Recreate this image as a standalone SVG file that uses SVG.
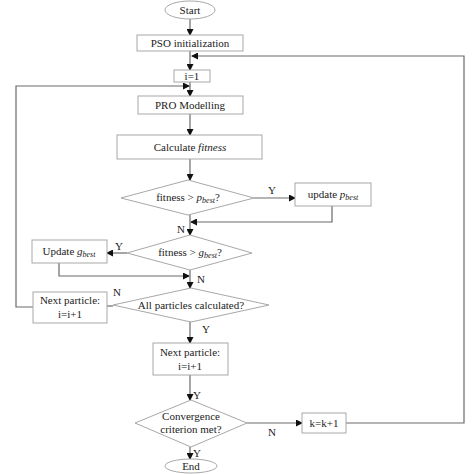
<svg xmlns="http://www.w3.org/2000/svg" width="474" height="474" viewBox="0 0 474 474">
<style>
.box{fill:#fff;stroke:#a8a8a8;stroke-width:1}
.t{font-family:'Liberation Serif','Times New Roman',serif;font-size:11px;fill:#222;text-anchor:middle}
.lbl{font-family:'Liberation Serif','Times New Roman',serif;font-size:11px;fill:#222}
.c{fill:none;stroke:#6a6a6a;stroke-width:1.2}
.ca{fill:none;stroke:#6a6a6a;stroke-width:1.2;marker-end:url(#ah)}
.i{font-style:italic}
</style>
<defs>
<marker id="ah" markerWidth="7" markerHeight="7" refX="6" refY="3.5" orient="auto" markerUnits="userSpaceOnUse">
<path d="M0,0 L7,3.5 L0,7 Z" fill="#111"/>
</marker>
</defs>
<rect width="474" height="474" fill="#fff"/>
<g id="connectors">
<line class="ca" x1="190" y1="19" x2="190" y2="35"/>
<line class="ca" x1="190" y1="51" x2="190" y2="70"/>
<path class="ca" d="M346,423 H464 V56 H192"/>
<line class="ca" x1="190" y1="82" x2="190" y2="96"/>
<path class="ca" d="M33,307 H16 V86 H189"/>
<line class="ca" x1="190" y1="114" x2="190" y2="135"/>
<line class="ca" x1="190" y1="159" x2="190" y2="180"/>
<line class="ca" x1="254" y1="198" x2="295" y2="198"/>
<path class="ca" d="M332,206 V222 H191"/>
<line class="ca" x1="190" y1="215" x2="190" y2="235"/>
<line class="ca" x1="127" y1="253" x2="107" y2="253"/>
<path class="ca" d="M59,263 V276 H189"/>
<line class="ca" x1="190" y1="270" x2="190" y2="288"/>
<line class="c" x1="113" y1="306" x2="107" y2="306"/>
<line class="ca" x1="190" y1="322" x2="190" y2="343"/>
<line class="ca" x1="190" y1="375" x2="190" y2="400"/>
<line class="ca" x1="247" y1="423" x2="302" y2="423"/>
<line class="ca" x1="190" y1="447" x2="190" y2="459"/>
<text class="lbl" x="268" y="194">Y</text>
<text class="lbl" x="177" y="233">N</text>
<text class="lbl" x="115" y="250">Y</text>
<text class="lbl" x="197" y="283">N</text>
<text class="lbl" x="113" y="296">N</text>
<text class="lbl" x="202" y="333">Y</text>
<text class="lbl" x="193" y="399">Y</text>
<text class="lbl" x="268" y="436">N</text>
<text class="lbl" x="193" y="457">Y</text>
</g>
<g id="start">
<ellipse class="box" cx="190" cy="10" rx="25" ry="9"/>
<text class="t" x="190" y="14">Start</text>
</g>
<g id="pso-init">
<rect class="box" x="137" y="35" width="106" height="16"/>
<text class="t" x="190" y="47">PSO initialization</text>
</g>
<g id="i-eq-1">
<rect class="box" x="174" y="70" width="36" height="12"/>
<text class="t" x="192" y="80">i=1</text>
</g>
<g id="pro-modelling">
<rect class="box" x="138" y="96" width="105" height="18"/>
<text class="t" x="190" y="109">PRO Modelling</text>
</g>
<g id="calc-fitness">
<rect class="box" x="117" y="135" width="145" height="24"/>
<text class="t" x="190" y="151">Calculate <tspan class="i">fitness</tspan></text>
</g>
<g id="pbest-decision">
<polygon class="box" points="188,180 254,198 188,215 121,198"/>
<text class="t" x="188" y="201">fitness &gt; <tspan class="i">p</tspan><tspan class="i" font-size="8" dy="2">best</tspan><tspan dy="-2">?</tspan></text>
</g>
<g id="update-pbest">
<rect class="box" x="295" y="183" width="76" height="23"/>
<text class="t" x="333" y="198">update <tspan class="i">p</tspan><tspan class="i" font-size="8" dy="2">best</tspan></text>
</g>
<g id="gbest-decision">
<polygon class="box" points="190,235 252,253 190,270 127,253"/>
<text class="t" x="190" y="256">fitness &gt; <tspan class="i">g</tspan><tspan class="i" font-size="8" dy="2">best</tspan><tspan dy="-2">?</tspan></text>
</g>
<g id="update-gbest">
<rect class="box" x="32" y="240" width="75" height="23"/>
<text class="t" x="69" y="255">Update <tspan class="i">g</tspan><tspan class="i" font-size="8" dy="2">best</tspan></text>
</g>
<g id="all-particles-decision">
<polygon class="box" points="191,288 269,305 191,322 113,305"/>
<text class="t" x="191" y="309">All particles calculated?</text>
</g>
<g id="next-particle-left">
<rect class="box" x="33" y="292" width="74" height="31"/>
<text class="t" x="70" y="304" font-size="10">Next particle:</text>
<text class="t" x="70" y="318" font-size="10">i=i+1</text>
</g>
<g id="next-particle">
<rect class="box" x="153" y="343" width="75" height="32"/>
<text class="t" x="190" y="356" font-size="10">Next particle:</text>
<text class="t" x="190" y="370" font-size="10">i=i+1</text>
</g>
<g id="convergence-decision">
<polygon class="box" points="191,400 247,423 191,447 135,423"/>
<text class="t" x="191" y="420" font-size="10">Convergence</text>
<text class="t" x="191" y="433" font-size="10">criterion met?</text>
</g>
<g id="k-increment">
<rect class="box" x="302" y="413" width="44" height="20"/>
<text class="t" x="324" y="427" font-size="10">k=k+1</text>
</g>
<g id="end">
<ellipse class="box" cx="191" cy="466" rx="26" ry="7"/>
<text class="t" x="191" y="470" font-size="10">End</text>
</g>
</svg>
